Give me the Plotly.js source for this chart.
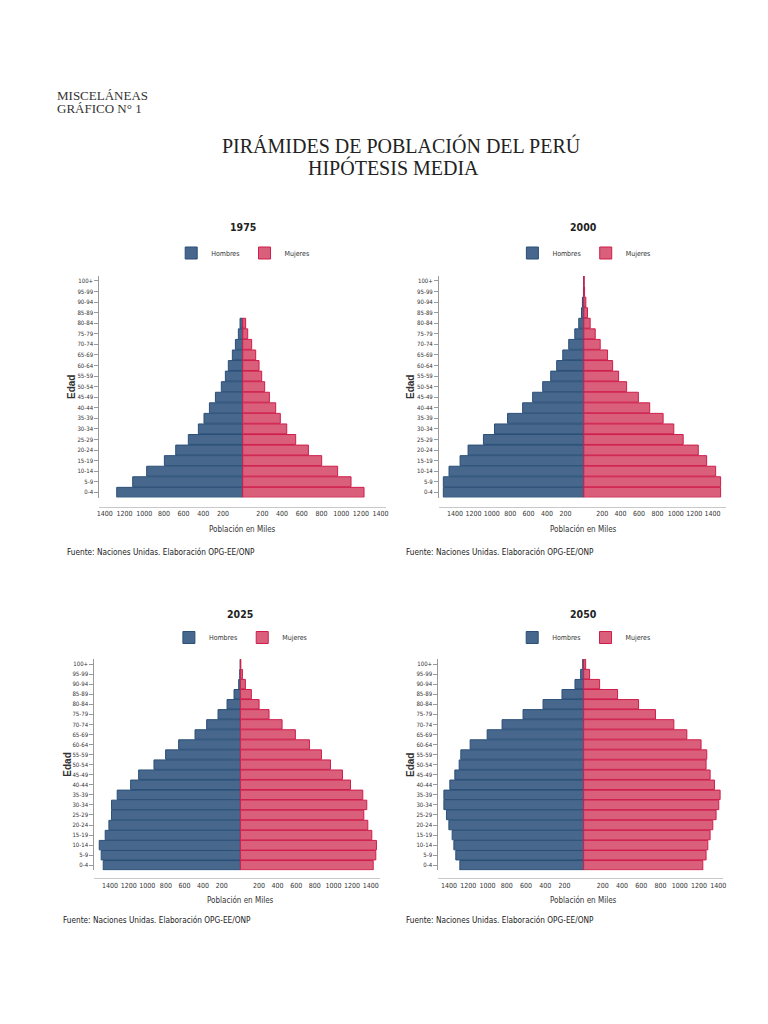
<!DOCTYPE html>
<html>
<head>
<meta charset="utf-8">
<script src="https://cdn.plot.ly/plotly-3.0.1.min.js"></script>
<style>
  html, body { margin: 0; padding: 0; background: #ffffff; }
  #chart { width: 768px; height: 1024px; }
</style>
</head>
<body>
<div id="chart"></div>
<script>
// ---------- DATA (thousands of people) ----------
const ageGroups = ['0-4','5-9','10-14','15-19','20-24','25-29','30-34','35-39','40-44','45-49','50-54','55-59','60-64','65-69','70-74','75-79','80-84','85-89','90-94','95-99','100+'];
const years = ['1975', '2000', '2025', '2050'];

// 1975: no bars shown above 80-84
const hombres1975 = [1279,1117,975,795,680,552,450,393,338,277,217,176,146,105,74,44,27,null,null,null,null];
const mujeres1975 = [1232,1100,964,802,667,538,447,382,335,271,223,193,166,132,91,51,30,null,null,null,null];

const hombres2000 = [1527,1527,1465,1345,1258,1091,971,829,665,556,447,360,295,229,164,98,55,25,15,4,1];
const mujeres2000 = [1487,1487,1433,1335,1244,1080,978,862,716,593,465,378,313,258,178,124,69,40,22,8,2];

const hombres2025 = [1473,1495,1516,1452,1412,1384,1384,1323,1179,1093,928,803,663,487,362,240,143,68,18,7,1];
const mujeres2025 = [1427,1455,1462,1412,1369,1326,1358,1315,1183,1097,968,871,742,591,448,308,201,118,54,22,5];

const hombres2050 = [1287,1329,1349,1367,1401,1426,1453,1453,1391,1339,1294,1277,1180,1003,848,630,422,225,90,31,10];
const mujeres2050 = [1239,1273,1291,1315,1343,1377,1405,1419,1360,1315,1273,1280,1221,1073,938,747,571,353,166,62,21];

const tickValues = [1400,1200,1000,800,600,400,200];
const seriesNames = ['Hombres', 'Mujeres'];
const sourceText = 'Fuente: Naciones Unidas. Elaboración OPG-EE/ONP';
const xTitleText = 'Población en Miles';
const yTitleText = 'Edad';

// ---------- LAYOUT HELPERS (pixel geometry of the page) ----------
const W = 768, H = 1024;
const px = v => v / W;
const py = v => 1 - v / H;

const hombres = [hombres1975, hombres2000, hombres2025, hombres2050];
const mujeres = [mujeres1975, mujeres2000, mujeres2025, mujeres2050];

const panels = [
  { xl: 99.3, xr: 385.5, yt: 275.7, yb: 497.6, range: [-1456, 1450], axisY: 506.7, cx: 242.7, titleY: 227, legendY: 253, xTitleY: 529, srcX: 65, srcY: 551.5, edadX: 71, edadY: 387 },
  { xl: 439.0, xr: 725.5, yt: 275.7, yb: 497.6, range: [-1574, 1540], axisY: 506.7, cx: 583.9, titleY: 227, legendY: 253, xTitleY: 529, srcX: 404, srcY: 551.5, edadX: 410, edadY: 387 },
  { xl: 94.3, xr: 380.0, yt: 659.0, yb: 870.3, range: [-1569, 1500], axisY: 878.3, cx: 240.4, titleY: 614, legendY: 637.5, xTitleY: 899.5, srcX: 61, srcY: 920, edadX: 66.7, edadY: 765 },
  { xl: 438.3, xr: 723.1, yt: 659.0, yb: 870.3, range: [-1511, 1450], axisY: 878.3, cx: 583.7, titleY: 614, legendY: 637.5, xTitleY: 899.5, srcX: 404, srcY: 920, edadX: 410, edadY: 765 }
];

const FONT = '"Liberation Sans Narrow", "Arial Narrow", "DejaVu Sans Condensed", "Liberation Sans", Arial, sans-serif';
const SERIF = '"Liberation Serif", "DejaVu Serif", serif';
const blueFill = '#47688c', blueLine = '#2b4f78';
const pinkFill = '#d95f7b', pinkLine = '#cf1d4b';

const data = [];
const layout = {
  width: W, height: H,
  margin: { l: 0, r: 0, t: 0, b: 0 },
  paper_bgcolor: '#ffffff',
  plot_bgcolor: 'rgba(0,0,0,0)',
  barmode: 'overlay',
  bargap: 0.06,
  font: { family: FONT, color: '#333333' },
  annotations: [],
  showlegend: true
};

const tickVals = tickValues.map(v => -v).concat(tickValues.slice().reverse());
const tickText = tickValues.map(String).concat(tickValues.slice().reverse().map(String));

panels.forEach((p, i) => {
  const s = i === 0 ? '' : String(i + 1);
  const xa = 'x' + s, ya = 'y' + s;
  const lg = 'legend' + s;

  data.push({
    type: 'bar', orientation: 'h', name: seriesNames[0],
    y: ageGroups, x: hombres[i].map(v => v === null ? null : -v),
    customdata: hombres[i],
    hovertemplate: '%{y}: %{customdata}<extra>' + seriesNames[0] + ' ' + years[i] + '</extra>',
    xaxis: xa, yaxis: ya, legend: lg,
    marker: { color: blueFill, line: { color: blueLine, width: 1 } }
  });
  data.push({
    type: 'bar', orientation: 'h', name: seriesNames[1],
    y: ageGroups, x: mujeres[i],
    hovertemplate: '%{y}: %{x}<extra>' + seriesNames[1] + ' ' + years[i] + '</extra>',
    xaxis: xa, yaxis: ya, legend: lg,
    marker: { color: pinkFill, line: { color: pinkLine, width: 1 } }
  });

  layout['xaxis' + s] = {
    domain: [px(p.xl), px(p.xr)],
    range: p.range,
    anchor: 'free',
    position: py(p.axisY),
    showline: true, linecolor: '#c8c8c8', linewidth: 1,
    showgrid: false, zeroline: false,
    tickmode: 'array', tickvals: tickVals, ticktext: tickText,
    ticks: '', tickfont: { size: 7, color: '#333333', family: FONT },
    fixedrange: true
  };
  layout['yaxis' + s] = {
    domain: [py(p.yb), py(p.yt)],
    anchor: xa,
    type: 'category',
    categoryorder: 'array', categoryarray: ageGroups,
    range: [-0.5, ageGroups.length - 0.5],
    showline: true, linecolor: '#9a9a9a', linewidth: 1,
    ticks: 'outside', ticklen: 4, tickcolor: '#9a9a9a', tickwidth: 1,
    showgrid: false, zeroline: false,
    tickfont: { size: 6, color: '#333333', family: FONT },
    fixedrange: true
  };
  layout[lg] = {
    orientation: 'h',
    x: px(p.cx), xanchor: 'center',
    y: py(p.legendY), yanchor: 'middle',
    xref: 'paper', yref: 'paper',
    font: { size: 7, color: '#333333', family: FONT },
    bgcolor: 'rgba(0,0,0,0)',
    itemwidth: 30,
    traceorder: 'normal'
  };

  layout.annotations.push(
    { text: '<b>' + years[i] + '</b>', x: px(p.cx), y: py(p.titleY), xref: 'paper', yref: 'paper',
      xanchor: 'center', yanchor: 'middle', showarrow: false, font: { size: 10.5, color: '#222222', family: FONT } },
    { text: xTitleText, x: px(p.cx), y: py(p.xTitleY), xref: 'paper', yref: 'paper',
      xanchor: 'center', yanchor: 'middle', showarrow: false, font: { size: 8, color: '#333333', family: FONT } },
    { text: '<b>' + yTitleText + '</b>', x: px(p.edadX), y: py(p.edadY), xref: 'paper', yref: 'paper', textangle: -90,
      xanchor: 'center', yanchor: 'middle', showarrow: false, font: { size: 10, color: '#333333', family: '"Liberation Sans", Arial, sans-serif' } },
    { text: sourceText, x: px(p.srcX), y: py(p.srcY), xref: 'paper', yref: 'paper',
      xanchor: 'left', yanchor: 'middle', showarrow: false, font: { size: 8.2, color: '#222222', family: FONT } }
  );
});

// page header
layout.annotations.push(
  { text: 'MISCELÁNEAS', x: px(55), y: py(95), xref: 'paper', yref: 'paper', xanchor: 'left', yanchor: 'middle',
    showarrow: false, font: { size: 13, color: '#333333', family: SERIF } },
  { text: 'GRÁFICO N° 1', x: px(55), y: py(108.5), xref: 'paper', yref: 'paper', xanchor: 'left', yanchor: 'middle',
    showarrow: false, font: { size: 13, color: '#333333', family: SERIF } },
  { text: 'PIRÁMIDES DE POBLACIÓN DEL PERÚ', x: px(401), y: py(145), xref: 'paper', yref: 'paper', xanchor: 'center', yanchor: 'middle',
    showarrow: false, font: { size: 20, color: '#222222', family: SERIF } },
  { text: 'HIPÓTESIS MEDIA', x: px(393), y: py(167), xref: 'paper', yref: 'paper', xanchor: 'center', yanchor: 'middle',
    showarrow: false, font: { size: 20, color: '#222222', family: SERIF } }
);

Plotly.newPlot('chart', data, layout, { displayModeBar: false, staticPlot: false, responsive: false });
</script>
</body>
</html>
